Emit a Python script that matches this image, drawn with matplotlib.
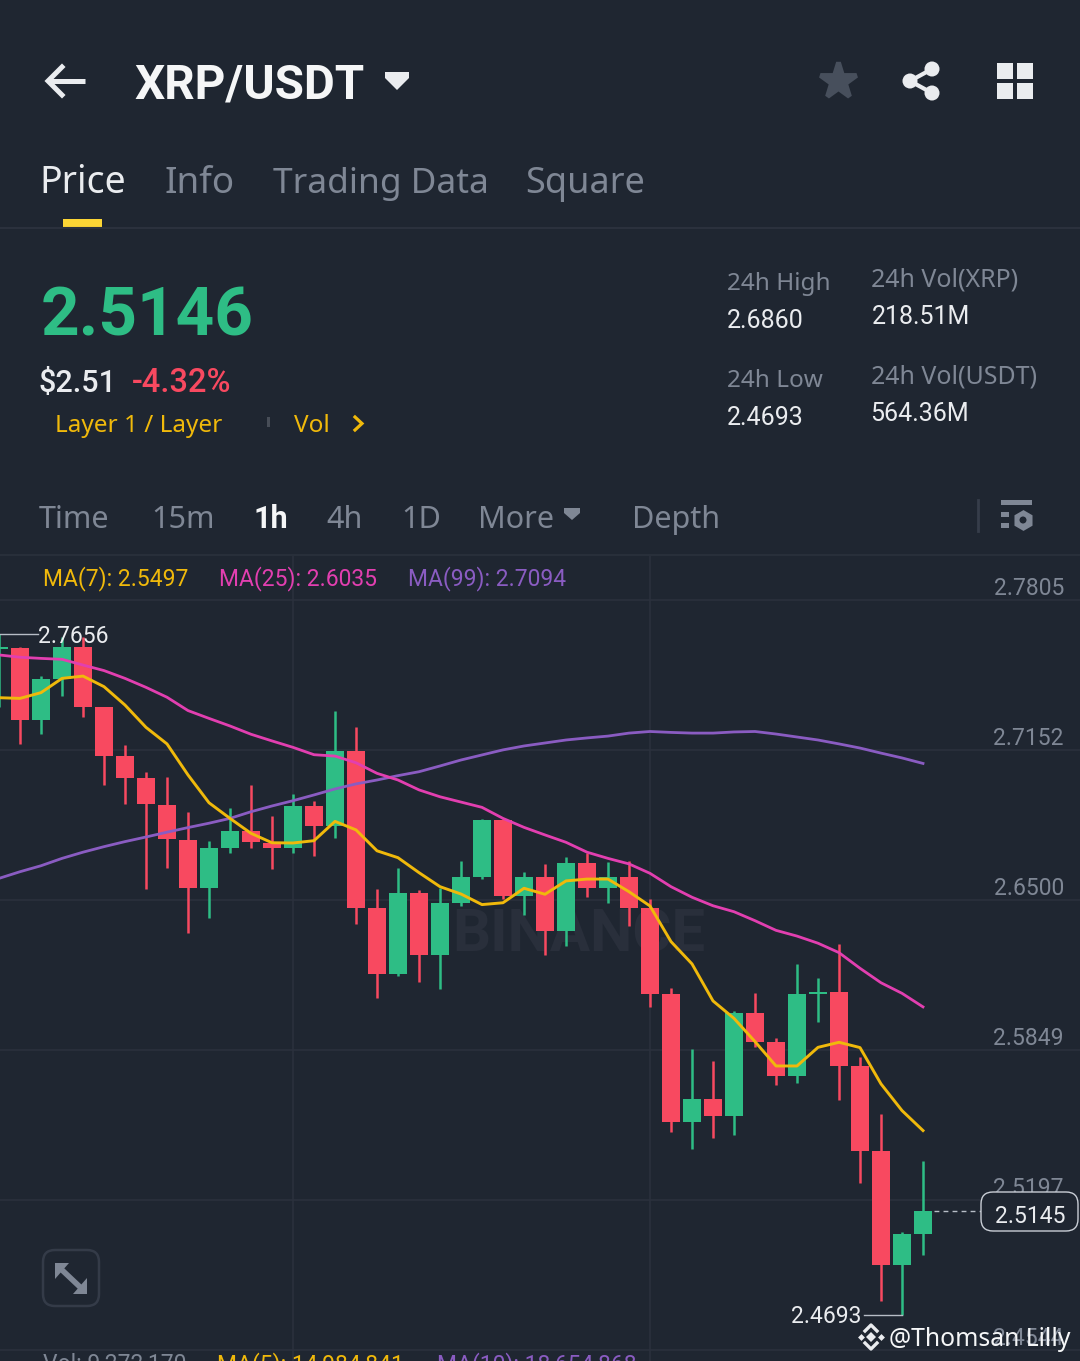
import numpy as np
import matplotlib as mpl
import matplotlib.pyplot as plt
from matplotlib.patches import FancyBboxPatch, Polygon, Rectangle, Circle

BG = '#1F2631'
GRID = '#2B313D'
WHITE = '#EAECEF'
GREY = '#7F8795'
RED = '#F84960'
GREEN = '#2EBD85'
YELLOW = '#F0B90B'
PINK = '#E23FB0'
PURPLE = '#8A5CC2'
TEXT_FONT = 'Noto Sans'
NUM_FONT = 'Roboto'

mpl.rcParams['font.family'] = [TEXT_FONT, 'DejaVu Sans']

# candles, oldest first (first one is cut by the left edge)
opens = [2.7592, 2.7595, 2.7283, 2.7461, 2.7602, 2.7338, 2.7126, 2.7031, 2.6915, 2.6762,
         2.6552, 2.6727, 2.6802, 2.6748, 2.6727, 2.6909, 2.6821, 2.7150, 2.6465, 2.6177,
         2.6532, 2.6259, 2.6486, 2.6600, 2.6848, 2.6519, 2.6599, 2.6365, 2.6660, 2.6551,
         2.6599, 2.6464, 2.6090, 2.5536, 2.5636, 2.5562, 2.6007, 2.5884, 2.5736, 2.6092,
         2.6100, 2.5779, 2.5408, 2.4911, 2.5047]
highs = [2.7656, 2.7599, 2.7474, 2.7645, 2.7644, 2.7341, 2.7174, 2.7057, 2.7036, 2.6884,
         2.6758, 2.6900, 2.7000, 2.6865, 2.6961, 2.6931, 2.7322, 2.7253, 2.6548, 2.6639,
         2.6544, 2.6552, 2.6670, 2.6851, 2.6852, 2.6620, 2.6657, 2.6686, 2.6704, 2.6664,
         2.6670, 2.6503, 2.6116, 2.5851, 2.5800, 2.6017, 2.6097, 2.5900, 2.6223, 2.6162,
         2.6309, 2.5818, 2.5569, 2.5057, 2.5363]
lows = [2.7340, 2.7177, 2.7222, 2.7387, 2.7297, 2.7000, 2.6918, 2.6548, 2.6639, 2.6358,
        2.6422, 2.6704, 2.6726, 2.6635, 2.6704, 2.6691, 2.6770, 2.6396, 2.6075, 2.6171,
        2.6143, 2.6113, 2.6474, 2.6590, 2.6503, 2.6435, 2.6261, 2.6300, 2.6512, 2.6486,
        2.6387, 2.6036, 2.5492, 2.5416, 2.5465, 2.5478, 2.5862, 2.5695, 2.5705, 2.5968,
        2.5630, 2.5269, 2.4756, 2.4693, 2.4956]
closes = [2.7600, 2.7283, 2.7461, 2.7602, 2.7338, 2.7126, 2.7031, 2.6918, 2.6765, 2.6552,
          2.6727, 2.6802, 2.6751, 2.6727, 2.6909, 2.6821, 2.7150, 2.6465, 2.6177, 2.6532,
          2.6259, 2.6486, 2.6600, 2.6848, 2.6519, 2.6599, 2.6365, 2.6660, 2.6551, 2.6599,
          2.6464, 2.6090, 2.5536, 2.5636, 2.5562, 2.6007, 2.5884, 2.5736, 2.6090, 2.6100,
          2.5779, 2.5408, 2.4911, 2.5047, 2.5146]

ma7 = [2.7380, 2.7377, 2.7402, 2.7464, 2.7474, 2.7428, 2.7348, 2.7251, 2.7179, 2.7044,
       2.6923, 2.6855, 2.6790, 2.6749, 2.6748, 2.6758, 2.6842, 2.6805, 2.6714, 2.6684,
       2.6619, 2.6558, 2.6526, 2.6480, 2.6488, 2.6551, 2.6525, 2.6583, 2.6591, 2.6591,
       2.6536, 2.6474, 2.6319, 2.6222, 2.6061, 2.5985, 2.5884, 2.5778, 2.5778, 2.5859,
       2.5881, 2.5858, 2.5700, 2.5584, 2.5497]
ma25 = [2.7566, 2.7556, 2.7551, 2.7547, 2.7522, 2.7498, 2.7464, 2.7425, 2.7382, 2.7324,
        2.7290, 2.7257, 2.7221, 2.7192, 2.7164, 2.7132, 2.7126, 2.7097, 2.7051, 2.7022,
        2.6979, 2.6949, 2.6926, 2.6903, 2.6855, 2.6816, 2.6783, 2.6751, 2.6708, 2.6681,
        2.6657, 2.6616, 2.6558, 2.6512, 2.6475, 2.6449, 2.6410, 2.6368, 2.6343, 2.6312,
        2.6271, 2.6203, 2.6140, 2.6094, 2.6035]
ma99 = [2.6594, 2.6623, 2.6649, 2.6681, 2.6708, 2.6732, 2.6754, 2.6774, 2.6795, 2.6815,
        2.6834, 2.6855, 2.6884, 2.6909, 2.6932, 2.6957, 2.6983, 2.7005, 2.7022, 2.7041,
        2.7058, 2.7083, 2.7109, 2.7131, 2.7153, 2.7170, 2.7183, 2.7196, 2.7205, 2.7213,
        2.7226, 2.7233, 2.7229, 2.7226, 2.7226, 2.7231, 2.7233, 2.7222, 2.7209, 2.7196,
        2.7179, 2.7161, 2.7139, 2.7118, 2.7094]

price_ticks = [2.7805, 2.7152, 2.6500, 2.5849, 2.5197, 2.4544]
price_tick_labels = ['2.7805', '2.7152', '2.6500', '2.5849', '2.5197', '2.4544']
time_ticks = [13, 30]

top_tabs = ['Price', 'Info', 'Trading Data', 'Square']
intervals = ['Time', '15m', '1h', '4h', '1D', 'More', 'Depth']
ma_labels = ['MA(7): 2.5497', 'MA(25): 2.6035', 'MA(99): 2.7094']
stat_labels = ['24h High', '24h Low', '24h Vol(XRP)', '24h Vol(USDT)']
stat_values = ['2.6860', '2.4693', '218.51M', '564.36M']
high_label = 2.7656
low_label = 2.4693
last_price = 2.5145

fig = plt.figure(figsize=(10.8, 13.61), dpi=100, facecolor=BG)

# chart area, price on y and candle number on x
ax = fig.add_axes([0, 0, 1, 805 / 1361])
ax.set_facecolor(BG)
ax.set_xlim(-20 / 21, 1060 / 21)
ax.set_ylim(2.44946, 2.79964)
for side in ax.spines.values():
    side.set_visible(False)
ax.set_yticks(price_ticks)
ax.set_xticks(time_ticks)
ax.tick_params(length=0, labelleft=False, labelbottom=False)
ax.grid(True, color=GRID, lw=1.1)
ax.set_axisbelow(True)

ui = fig.add_axes([0, 0, 1, 1], zorder=5)
ui.set_xlim(0, 1080)
ui.set_ylim(1361, 0)
ui.axis('off')
ui.patch.set_alpha(0)


def label(x, y, s, size, color, weight='normal', font=TEXT_FONT, ha='left'):
    return ui.text(x, y, s, fontsize=size, color=color, fontweight=weight, family=font,
                   ha=ha, va='baseline')


# watermark goes under the candles
ax.text(0.536, 0.529, 'BINANCE', transform=ax.transAxes, ha='center', va='center',
        fontsize=43, fontweight='bold', color='#292F3B', family=NUM_FONT, zorder=1)

idx = np.arange(-1, len(opens) - 1)
o = np.array(opens)
c = np.array(closes)
colors = [GREEN if b >= a else RED for a, b in zip(o, c)]
ax.vlines(idx, lows, highs, colors=colors, lw=1.8, zorder=2)
ax.bar(idx, np.abs(c - o), bottom=np.minimum(o, c), width=0.87, color=colors, zorder=3)

ax.plot(idx, ma99, color=PURPLE, lw=2.0, zorder=4)
ax.plot(idx, ma25, color=PINK, lw=2.0, zorder=4)
ax.plot(idx, ma7, color=YELLOW, lw=2.1, zorder=4)

# high / low markers
ax.plot([-1, 0.85], [high_label, high_label], color='#B7BDC6', lw=1, zorder=5)
ax.text(0.87, high_label - 0.0008, '2.7656', color=WHITE, fontsize=16.5, family=NUM_FONT,
        ha='left', va='center', zorder=6)
ax.plot([40.2, 42], [low_label, low_label], color='#B7BDC6', lw=1, zorder=5)
ax.text(40.05, low_label - 0.0004, '2.4693', color=WHITE, fontsize=16.5, family=NUM_FONT,
        ha='right', va='center', zorder=6)

# price scale
for tick, tick_label in zip(price_ticks, price_tick_labels):
    ax.annotate(tick_label, (1064 / 1080, tick), xycoords=('axes fraction', 'data'),
                xytext=(0, 3.6), textcoords='offset points', color=GREY, fontsize=16.5,
                family=NUM_FONT, ha='right', va='baseline', zorder=2)

# last price tag
ax.plot([43.5, 46], [last_price, last_price], color='#B7BDC6', lw=1, ls=(0, (3.5, 3)), zorder=5)
ui.add_patch(FancyBboxPatch((988, 1199), 83, 25, boxstyle='round,pad=7,rounding_size=12',
                            fc=BG, ec='#C9CED6', lw=1))
label(1065, 1223, '2.5145', 16.5, WHITE, font=NUM_FONT, ha='right')

# header
label(134, 98, 'XRP/USDT', 34.3, '#F5F6F7', weight='bold', font=NUM_FONT)
ui.plot([48, 85], [81, 81], color=WHITE, lw=3.6, solid_capstyle='butt')
ui.plot([62, 48, 62], [67, 81, 95], color=WHITE, lw=3.6, solid_joinstyle='miter')
ui.add_patch(Polygon([(385, 72), (409, 72), (409, 78), (397, 90), (385, 78)], fc=WHITE, ec='none'))
ui.plot([837.5], [81], marker='*', ms=27, color='#474F5C', mec='#474F5C', mew=3.5)
for sx, sy in [(932, 69), (932, 93)]:
    ui.plot([910, sx], [81, sy], color=WHITE, lw=3)
    ui.add_patch(Circle((sx, sy), 7.5, fc=WHITE, ec='none'))
ui.add_patch(Circle((910, 81), 7.5, fc=WHITE, ec='none'))
for gx in [997, 1017]:
    for gy in [63, 83]:
        ui.add_patch(Rectangle((gx, gy), 16, 16, fc=WHITE, ec='none'))

for tab, tx, col, tab_size in zip(top_tabs, [39, 165, 273, 525], [WHITE, GREY, GREY, GREY],
                                  [27, 26.5, 25.4, 26]):
    label(tx, 193, tab, tab_size, col)
ui.add_patch(Rectangle((63, 219), 39, 8, fc='#FCD535', ec='none'))
ui.plot([0, 1080], [228, 228], color=GRID, lw=1.5)

# price block
label(41, 335, '2.5146', 48.5, GREEN, weight='bold', font=NUM_FONT)
label(39, 392, '$2.51', 22, WHITE, weight='medium', font=NUM_FONT)
label(132, 392, '-4.32%', 23.5, RED, weight='medium', font=NUM_FONT)
label(55, 432, 'Layer 1 / Layer', 17.5, YELLOW)
ui.add_patch(Rectangle((267, 417), 3, 10, fc='#474D57', ec='none'))
label(294, 432, 'Vol', 17.5, YELLOW)
ui.plot([355, 362, 355], [417, 423.5, 430], color=YELLOW, lw=2.3, solid_joinstyle='miter')

label(727, 290, stat_labels[0], 17.5, GREY)
label(727, 328, stat_values[0], 18, WHITE, font=NUM_FONT)
label(727, 387, stat_labels[1], 17.5, GREY)
label(727, 425, stat_values[1], 18, WHITE, font=NUM_FONT)
label(871, 286, stat_labels[2], 18, GREY)
label(872, 324, stat_values[2], 18, WHITE, font=NUM_FONT)
label(871, 383, stat_labels[3], 18, GREY)
label(870, 421, stat_values[3], 18, WHITE, font=NUM_FONT)

# interval row
for name, tx in zip(intervals, [39, 151, 253, 326, 401, 478, 632]):
    if name == '1h':
        label(tx, 528, name, 22, '#F5F6F7', weight='bold', font=NUM_FONT)
    else:
        label(tx, 528, name, 22, GREY)
ui.add_patch(Polygon([(564, 508), (580, 508), (580, 513), (572, 520), (564, 513)], fc=GREY, ec='none'))
ui.plot([978, 978], [500, 531], color='#363D4A', lw=2)
ui.add_patch(Rectangle((1001, 500), 31, 5, fc=GREY, ec='none'))
ui.add_patch(Rectangle((1001, 512), 8, 5, fc=GREY, ec='none'))
ui.add_patch(Rectangle((1001, 523), 8, 5, fc=GREY, ec='none'))
ui.plot([1023], [520], marker='h', ms=15, color=GREY, mew=0)
ui.add_patch(Circle((1023, 520), 3.5, fc=BG, ec='none', zorder=4))
ui.plot([0, 1080], [555, 555], color=GRID, lw=1.2)

# MA legend
for ma_label, tx, col in zip(ma_labels, [43, 219, 408], [YELLOW, PINK, PURPLE]):
    label(tx, 585, ma_label, 16.5, col, font=NUM_FONT)

# expand button
ui.add_patch(FancyBboxPatch((53, 1260), 36, 36, boxstyle='round,pad=10,rounding_size=12',
                            fc='none', ec='#343B48', lw=1.8))
ui.plot([62, 80], [1270, 1287], color=GREY, lw=4, solid_capstyle='butt')
ui.add_patch(Polygon([(55, 1263), (69, 1263), (55, 1279)], fc=GREY, ec='none'))
ui.add_patch(Polygon([(87, 1294), (73, 1294), (87, 1278)], fc=GREY, ec='none'))

# volume pane header, cut by the bottom of the screenshot
label(43, 1371, 'Vol: 9,272,170', 16.5, GREY, font=NUM_FONT)
label(217, 1371, 'MA(5): 14,984,841', 16.5, YELLOW, font=NUM_FONT)
label(437, 1371, 'MA(10): 18,654,868', 16.5, PURPLE, font=NUM_FONT)

# watermark of the poster
logo = '#EAECEF'
ui.plot([871], [1337], marker='D', ms=5.5, color=logo, mew=0)
ui.plot([861, 881], [1337, 1337], ls='none', marker='D', ms=3.5, color=logo, mew=0)
ui.plot([865, 871, 877], [1331, 1325, 1331], color=logo, lw=2.4)
ui.plot([865, 871, 877], [1343, 1349, 1343], color=logo, lw=2.4)
label(889, 1346, '@Thomsan Lilly', 17.8, '#F5F6F7')

fig.savefig('out.png', dpi=100, facecolor=BG)
